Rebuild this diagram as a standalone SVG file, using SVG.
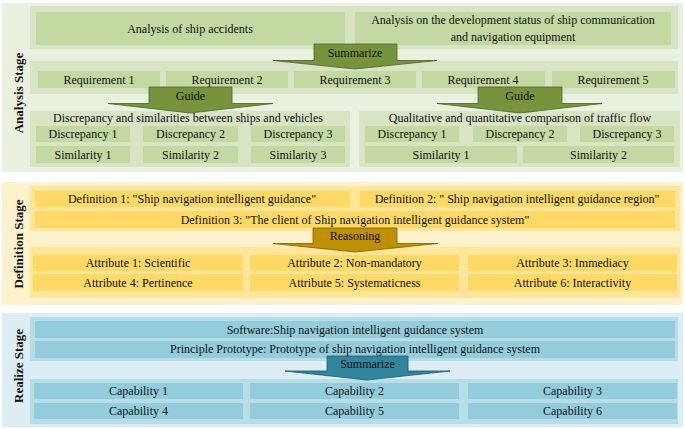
<svg xmlns="http://www.w3.org/2000/svg" width="685" height="429" viewBox="0 0 685 429" font-family="'Liberation Serif', 'Times New Roman', serif">
<style>
text{font-family:"Liberation Serif","Times New Roman",serif;font-size:12px;fill:#111;text-anchor:middle;dominant-baseline:central}
.stage{font-weight:bold;font-size:13px}
.ao{fill:#ebf1e1}.ap{fill:#d8e4c4}.ab{fill:#c4d8a2}
.do{fill:#fef2cc}.dp{fill:#ffe69b}.db{fill:#ffd966}
.ro{fill:#dcedf3}.rp{fill:#b7dde7}.rb{fill:#93cddb}
.ga{fill:#77933c;stroke:#4f6228;stroke-width:0.8}
.ya{fill:#bf9000;stroke:#7f6000;stroke-width:0.8}
.ta{fill:#31859c;stroke:#215968;stroke-width:0.8}
</style>
<rect width="685" height="429" fill="#ffffff"/>
<g id="analysis-stage">
<rect class="ao" x="2" y="3" width="681" height="169"/>
<text class="stage" transform="translate(18,93) rotate(-90)">Analysis Stage</text>
<rect class="ap" x="30" y="6" width="648" height="43"/>
<rect class="ap" x="30" y="61" width="648" height="33"/>
<rect class="ap" x="30" y="111" width="320" height="56"/>
<rect class="ap" x="359" y="111" width="321" height="56"/>
</g>
<g id="n-accidents"><rect class="ab" x="36" y="12" width="309" height="33"/><text x="190" y="29">Analysis of ship accidents</text></g>
<g id="n-equipment"><rect class="ab" x="355" y="12" width="316" height="33"/><text x="513" y="20">Analysis on the development status of ship communication</text><text x="513" y="37">and navigation equipment</text></g>
<g id="n-req1"><rect class="ab" x="38" y="71" width="122" height="17"/><text x="99" y="79.5">Requirement 1</text></g>
<g id="n-req2"><rect class="ab" x="166" y="71" width="122" height="17"/><text x="227" y="79.5">Requirement 2</text></g>
<g id="n-req3"><rect class="ab" x="294" y="71" width="122" height="17"/><text x="355" y="79.5">Requirement 3</text></g>
<g id="n-req4"><rect class="ab" x="422" y="71" width="123" height="17"/><text x="483" y="79.5">Requirement 4</text></g>
<g id="n-req5"><rect class="ab" x="552" y="71" width="123" height="17"/><text x="613" y="79.5">Requirement 5</text></g>
<g id="n-ships-vehicles"><text x="188" y="118">Discrepancy and similarities between ships and vehicles</text>
<rect class="ab" x="36" y="126" width="94" height="16"/><text x="83" y="134">Discrepancy 1</text>
<rect class="ab" x="143" y="126" width="95" height="16"/><text x="190.5" y="134">Discrepancy 2</text>
<rect class="ab" x="251" y="126" width="94" height="16"/><text x="298" y="134">Discrepancy 3</text>
<rect class="ab" x="36" y="146" width="94" height="17"/><text x="83" y="154.5">Similarity 1</text>
<rect class="ab" x="143" y="146" width="95" height="17"/><text x="190.5" y="154.5">Similarity 2</text>
<rect class="ab" x="251" y="146" width="94" height="17"/><text x="298" y="154.5">Similarity 3</text>
</g>
<g id="n-traffic-flow"><text x="520" y="118">Qualitative and quantitative comparison of traffic flow</text>
<rect class="ab" x="365" y="126" width="94" height="16"/><text x="412" y="134">Discrepancy 1</text>
<rect class="ab" x="473" y="126" width="94" height="16"/><text x="520" y="134">Discrepancy 2</text>
<rect class="ab" x="580" y="126" width="94" height="16"/><text x="627" y="134">Discrepancy 3</text>
<rect class="ab" x="365" y="146" width="152" height="17"/><text x="441" y="154.5">Similarity 1</text>
<rect class="ab" x="523" y="146" width="151" height="17"/><text x="598.5" y="154.5">Similarity 2</text>
</g>
<g id="definition-stage">
<rect class="do" x="2" y="182" width="681" height="123"/>
<text class="stage" transform="translate(18,244) rotate(-90)">Definition Stage</text>
<rect class="dp" x="30" y="186" width="650" height="45"/>
<rect class="dp" x="30" y="247" width="650" height="51"/>
</g>
<g id="n-def1"><rect class="db" x="35" y="191" width="315" height="16"/><text x="192" y="199">Definition 1: "Ship navigation intelligent guidance"</text></g>
<g id="n-def2"><rect class="db" x="360" y="191" width="315" height="16"/><text x="517" y="199">Definition 2: " Ship navigation intelligent guidance region"</text></g>
<g id="n-def3"><rect class="db" x="35" y="211" width="640" height="17"/><text x="355" y="219.5">Definition 3: "The client of Ship navigation intelligent guidance system"</text></g>
<g id="n-attr1"><rect class="db" x="33" y="255" width="210" height="16"/><text x="138" y="263">Attribute 1: Scientific</text></g>
<g id="n-attr2"><rect class="db" x="250" y="255" width="209" height="16"/><text x="354.5" y="263">Attribute 2: Non-mandatory</text></g>
<g id="n-attr3"><rect class="db" x="468" y="255" width="209" height="16"/><text x="572.5" y="263">Attribute 3: Immediacy</text></g>
<g id="n-attr4"><rect class="db" x="33" y="274" width="210" height="17"/><text x="138" y="282.5">Attribute 4: Pertinence</text></g>
<g id="n-attr5"><rect class="db" x="250" y="274" width="209" height="17"/><text x="354.5" y="282.5">Attribute 5: Systematicness</text></g>
<g id="n-attr6"><rect class="db" x="468" y="274" width="209" height="17"/><text x="572.5" y="282.5">Attribute 6: Interactivity</text></g>
<g id="realize-stage">
<rect class="ro" x="2" y="313" width="681" height="114"/>
<text class="stage" transform="translate(18,366) rotate(-90)">Realize Stage</text>
<rect class="rp" x="30" y="317" width="648" height="44"/>
<rect class="rp" x="30" y="379" width="648" height="45"/>
</g>
<g id="n-software"><rect class="rb" x="35" y="321" width="640" height="17"/><text x="355" y="329.5">Software:Ship navigation intelligent guidance system</text></g>
<g id="n-prototype"><rect class="rb" x="35" y="341" width="640" height="17"/><text x="355" y="349">Principle Prototype: Prototype of ship navigation intelligent guidance system</text></g>
<g id="n-cap1"><rect class="rb" x="34" y="383" width="209" height="16"/><text x="138.5" y="391">Capability 1</text></g>
<g id="n-cap2"><rect class="rb" x="250" y="383" width="209" height="16"/><text x="354.5" y="391">Capability 2</text></g>
<g id="n-cap3"><rect class="rb" x="468" y="383" width="209" height="16"/><text x="572.5" y="391">Capability 3</text></g>
<g id="n-cap4"><rect class="rb" x="34" y="403" width="209" height="16"/><text x="138.5" y="411">Capability 4</text></g>
<g id="n-cap5"><rect class="rb" x="250" y="403" width="209" height="16"/><text x="354.5" y="411">Capability 5</text></g>
<g id="n-cap6"><rect class="rb" x="468" y="403" width="209" height="16"/><text x="572.5" y="411">Capability 6</text></g>
<g id="connectors">
<path class="ga" d="M314,44 H397 V60.5 H437 L355,69 L273,60.5 H314 Z"/>
<text x="355" y="52.5">Summarize</text>
<path class="ga" d="M149,87 H232 V103.5 H273 L190,113 L108,103.5 H149 Z"/>
<text x="190.5" y="95.5">Guide</text>
<path class="ga" d="M478,87 H562 V103.5 H602 L520,113 L437,103.5 H478 Z"/>
<text x="520" y="95.5">Guide</text>
<path class="ya" d="M313,228 H397 V243.5 H438 L355,252 L273,243.5 H313 Z"/>
<text x="355" y="236">Reasoning</text>
<path class="ta" d="M327,356 H408 V371 H450 L367,380 L285,371 H327 Z"/>
<text x="367.5" y="363.5">Summarize</text>
</g>
</svg>
